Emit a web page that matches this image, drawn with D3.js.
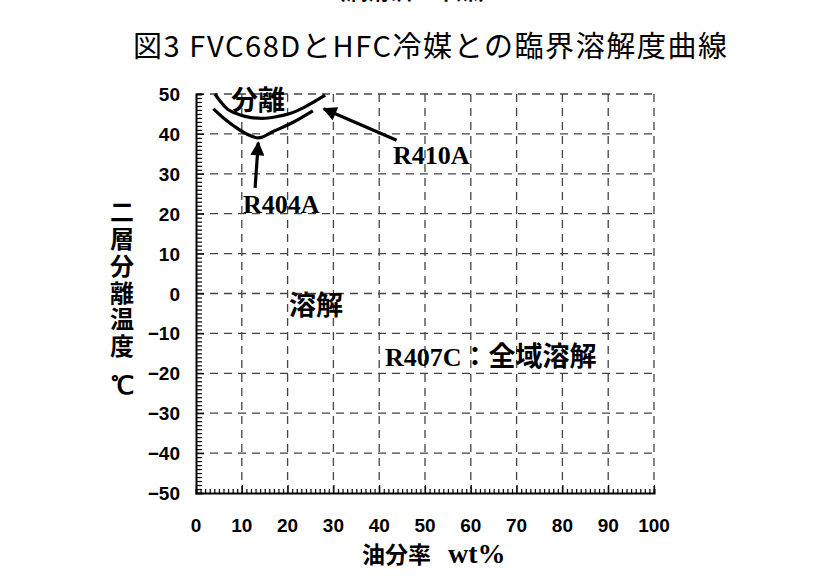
<!DOCTYPE html>
<html lang="ja">
<head>
    <meta charset="UTF-8">
    <script src="https://d3js.org/d3.v7.min.js"></script>
    <title>臨界溶解度曲線</title>
    <style>
        body { margin: 0; background: white; }
        .gothic { font-family: "Noto Sans CJK JP", sans-serif; }
        .num { font-family: "Liberation Sans", Arial, sans-serif; font-weight: bold; }
        .serif { font-family: "Liberation Serif", "DejaVu Serif", serif; font-weight: bold; }
    </style>
</head>
<body>
<script>
    // 軸の目盛り
    var xTicks = [0, 10, 20, 30, 40, 50, 60, 70, 80, 90, 100];
    var yTicks = [50, 40, 30, 20, 10, 0, -10, -20, -30, -40, -50];

    // R410A 二層分離曲線 (油分率 wt%, 温度 ℃)
    var r410aOil  = [4.1, 6.7, 9.5, 12, 14.5, 17.5, 20.5, 23.5, 28.2];
    var r410aTemp = [50, 46.4, 44.8, 44.1, 43.9, 44.3, 45.1, 46.6, 49.7];

    // R404A 二層分離曲線
    var r404aOil  = [3.8, 6, 8.5, 11, 13.6, 17, 21, 25.5];
    var r404aTemp = [46.3, 44, 41.8, 40, 39, 40.7, 42.8, 45.8];

    // 矢印 [始点x, 始点y, 終点x, 終点y]
    var arrowR410a = [43.8, 38.4, 27.9, 46.3];
    var arrowR404a = [12.9, 26.5, 13.6, 37.8];

    var canvasWidth = 821;
    var canvasHeight = 583;
    var svg = d3.select("body").append("svg")
        .attr("width", canvasWidth)
        .attr("height", canvasHeight);

    var xScale = d3.scaleLinear().domain([0, 100]).range([196, 654]);
    var yScale = d3.scaleLinear().domain([-50, 50]).range([493, 94]);

    svg.append("defs").append("marker")
        .attr("id", "head")
        .attr("viewBox", "0 0 10 10")
        .attr("refX", 9).attr("refY", 5)
        .attr("markerWidth", 5).attr("markerHeight", 4.4)
        .attr("markerUnits", "strokeWidth")
        .attr("orient", "auto")
        .append("path").attr("d", "M0,0 L10,5 L0,10 z").attr("fill", "black");

    // 上の切れた文字
    svg.append("text").attr("class", "gothic")
        .attr("x", 412).attr("y", -1)
        .attr("text-anchor", "middle")
        .attr("font-size", 22).attr("font-weight", "bold")
        .text("（潤滑油ー冷媒）");

    // タイトル
    svg.append("text").attr("class", "gothic")
        .attr("x", 133).attr("y", 57)
        .attr("font-size", 29)
        .attr("textLength", 594).attr("lengthAdjust", "spacing")
        .text("図3 FVC68DとHFC冷媒との臨界溶解度曲線");

    // グリッド
    var grid = svg.append("g")
        .attr("stroke", "#444").attr("stroke-width", 1.3)
        .attr("stroke-dasharray", "8,6");
    grid.selectAll(".vg").data(xTicks.slice(1)).enter().append("line")
        .attr("x1", d => xScale(d)).attr("x2", d => xScale(d))
        .attr("y1", yScale(50)).attr("y2", yScale(-50));
    grid.selectAll(".hg").data(yTicks.slice(0, -1)).enter().append("line")
        .attr("x1", xScale(0)).attr("x2", xScale(100))
        .attr("y1", d => yScale(d)).attr("y2", d => yScale(d));

    // 軸
    var xAxis = svg.append("g")
        .attr("transform", "translate(0," + yScale(-50) + ")")
        .call(d3.axisTop(xScale).ticks(100).tickSize(4).tickFormat(""));
    xAxis.selectAll(".tick line").attr("stroke-width", 1.2)
        .filter(d => d % 10 === 0).attr("y2", -8);
    xAxis.select(".domain").attr("stroke-width", 2);

    var yAxis = svg.append("g")
        .attr("transform", "translate(" + xScale(0) + ",0)")
        .call(d3.axisRight(yScale).ticks(100).tickSize(6).tickFormat(""));
    yAxis.selectAll(".tick line").attr("stroke-width", 1.2)
        .filter(d => d % 10 === 0).attr("x2", 8);
    yAxis.select(".domain").attr("stroke-width", 2);

    // 目盛りラベル
    svg.selectAll(".xl").data(xTicks).enter().append("text")
        .attr("class", "num")
        .attr("x", d => xScale(d)).attr("y", 532)
        .attr("text-anchor", "middle").attr("font-size", 19)
        .text(d => d);
    svg.selectAll(".yl").data(yTicks).enter().append("text")
        .attr("class", "num")
        .attr("x", 180).attr("y", d => yScale(d) + 7)
        .attr("text-anchor", "end").attr("font-size", 19)
        .text(d => d < 0 ? "\u2212" + (-d) : d);

    // 軸タイトル
    var xTitle = svg.append("text").attr("x", 362).attr("y", 563)
        .attr("font-weight", "bold");
    xTitle.append("tspan").attr("class", "gothic").attr("font-size", 23).text("油分率");
    xTitle.append("tspan").attr("class", "serif").attr("font-size", 28)
        .attr("dx", 17).text("wt%");

    svg.append("text").attr("class", "gothic")
        .attr("x", 122).attr("y", 200)
        .style("writing-mode", "vertical-rl")
        .style("text-orientation", "upright")
        .attr("font-size", 24).attr("font-weight", "bold")
        .attr("letter-spacing", 2.8)
        .text("二層分離温度");
    svg.append("text").attr("class", "num")
        .attr("x", 122).attr("y", 394)
        .attr("text-anchor", "middle").attr("font-size", 25)
        .text("℃");

    // 曲線
    var line = d3.line()
        .x(d => xScale(d[0])).y(d => yScale(d[1]))
        .curve(d3.curveMonotoneX);
    svg.append("path")
        .datum(r410aOil.map((d, i) => [d, r410aTemp[i]]))
        .attr("d", line).attr("fill", "none")
        .attr("stroke", "black").attr("stroke-width", 3.2);
    svg.append("path")
        .datum(r404aOil.map((d, i) => [d, r404aTemp[i]]))
        .attr("d", line).attr("fill", "none")
        .attr("stroke", "black").attr("stroke-width", 3.2);

    // 矢印
    [arrowR410a, arrowR404a].forEach(function(a) {
        svg.append("line")
            .attr("x1", xScale(a[0])).attr("y1", yScale(a[1]))
            .attr("x2", xScale(a[2])).attr("y2", yScale(a[3]))
            .attr("stroke", "black").attr("stroke-width", 3.2)
            .attr("marker-end", "url(#head)");
    });

    // 注記
    svg.append("text").attr("class", "gothic")
        .attr("x", 231).attr("y", 110)
        .attr("font-size", 27).attr("font-weight", "bold")
        .text("分離");
    svg.append("text").attr("class", "serif")
        .attr("x", 393).attr("y", 164)
        .attr("font-size", 26)
        .text("R410A");
    svg.append("text").attr("class", "serif")
        .attr("x", 243).attr("y", 213)
        .attr("font-size", 26)
        .text("R404A");
    svg.append("text").attr("class", "gothic")
        .attr("x", 289).attr("y", 315)
        .attr("font-size", 27).attr("font-weight", "bold")
        .text("溶解");
    var r407 = svg.append("text").attr("x", 385).attr("y", 366).attr("font-size", 26);
    r407.append("tspan").attr("class", "serif").text("R407C");
    r407.append("tspan").attr("class", "gothic").attr("font-size", 27)
        .attr("font-weight", "bold").text("：全域溶解");
</script>
</body>
</html>
